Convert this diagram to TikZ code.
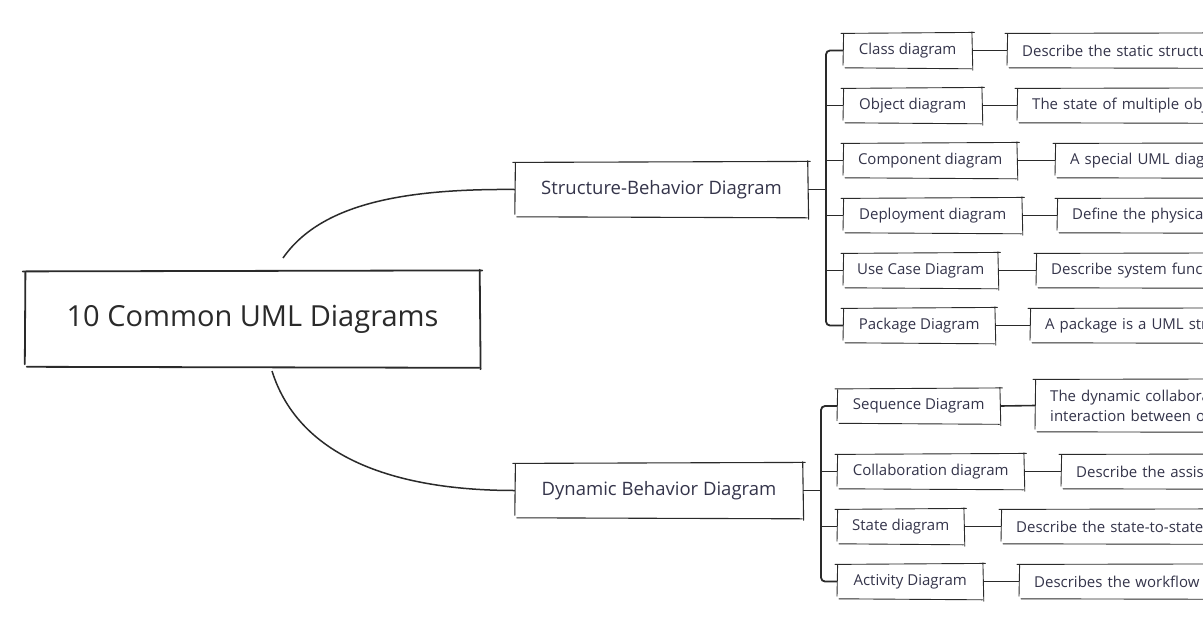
\documentclass[tikz,border=0pt]{standalone}
\usepackage{fontspec}
\setmainfont{Open Sans}
\usetikzlibrary{calc}
\definecolor{ink}{HTML}{2A2A2A}
\definecolor{txt}{HTML}{34344A}
\newcommand\skbox[2][0.9pt]{%
  \draw[ink, line width=#1, line cap=round] ($(#2.north west)+(-2,0.6)$) -- ($(#2.north east)+(2,-0.4)$);
  \draw[ink, line width=#1, line cap=round] ($(#2.north west)+(0.6,1.5)$) -- ($(#2.south west)+(0,-3)$);
  \draw[ink, line width=#1, line cap=round] ($(#2.south west)+(2,-0.4)$) -- ($(#2.south east)+(-1,0.6)$);
  \draw[ink, line width=#1, line cap=round] ($(#2.north east)+(-0.5,-1)$) -- ($(#2.south east)+(0.4,2)$);
}
\begin{document}
\begin{tikzpicture}[x=1pt,y=-1pt,
  rootbox/.style={minimum width=455, minimum height=96, inner sep=0,
    font=\fontsize{29}{34}\selectfont, text=ink},
  midbox/.style={minimum height=55, inner sep=0,
    font=\fontsize{18.5}{22}\selectfont, text=txt},
  childbox/.style={minimum height=35, inner sep=0, anchor=west,
    font=\fontsize{15}{18}\selectfont, text=txt},
  descbox/.style={minimum height=35, inner xsep=15, inner ysep=0,
    anchor=west, text width=400, align=left, font=\fontsize{15}{20}\selectfont, text=txt},
  link/.style={draw=ink, line width=1.6pt},
  trunk/.style={draw=ink, line width=1.8pt, rounded corners=4pt}
]
\useasboundingbox (0,0) rectangle (1203,630);
\fill[white] (0,0) rectangle (1203,630);
\clip (0,0) rectangle (1203,630);

% root
\node[rootbox] (root) at (252.5,319) {10 Common UML Diagrams};
\skbox[1.8pt]{root}

% level 1
\node[midbox, minimum width=293] (sb) at (661.5,189.5) {Structure-Behavior Diagram};
\node[midbox, minimum width=288] (db) at (659,490.5) {Dynamic Behavior Diagram};
\skbox[1.1pt]{sb}
\skbox[1.1pt]{db}

\coordinate (rt) at (283,258);
\coordinate (rb) at (272,371);
\draw[link, line width=1.5pt] (rt) .. controls (320,205) and (400,188.5) .. (sb.west);
\draw[link, line width=1.5pt] (rb) .. controls (300,460) and (400,490.5) .. (db.west);

% structure children
\node[childbox, minimum width=129] (c1) at (843,50.5) {Class diagram};
\node[childbox, minimum width=139] (c2) at (843,105.5) {Object diagram};
\node[childbox, minimum width=174] (c3) at (843,160.5) {Component diagram};
\node[childbox, minimum width=179] (c4) at (843,215.5) {Deployment diagram};
\node[childbox, minimum width=155] (c5) at (843,270.5) {Use Case Diagram};
\node[childbox, minimum width=152] (c6) at (843,325.5) {Package Diagram};

\node[descbox] (e1) at (1007,50.5) {Describe the static structu};
\node[descbox] (e2) at (1017,105.5) {The state of multiple obj};
\node[descbox] (e3) at (1055,160.5) {A special UML diag};
\node[descbox] (e4) at (1057,215.5) {Define the physical};
\node[descbox] (e5) at (1036,270.5) {Describe system funct};
\node[descbox] (e6) at (1030,325.5) {A package is a UML str};

\foreach \i in {1,...,6} {\skbox{c\i} \skbox{e\i} \draw[link] (c\i.east) -- (e\i.west);}

\coordinate (st) at (826,189.5);
\draw[link] (sb.east) -- (st);
\draw[trunk] (c1.west) -| (st) |- (c6.west);
\foreach \i in {2,...,5} {\draw[link] (c\i.west) -- (826,0 |- c\i.west);}

% dynamic children
\node[childbox, minimum width=163] (k1) at (837,406) {Sequence Diagram};
\node[childbox, minimum width=187] (k2) at (837,471.5) {Collaboration diagram};
\node[childbox, minimum width=127] (k3) at (837,526.5) {State diagram};
\node[childbox, minimum width=146] (k4) at (837,581.5) {Activity Diagram};

\node[descbox, minimum height=53] (f1) at (1035,405.5) {The dynamic collabora\\interaction between o};
\node[descbox] (f2) at (1061,471.5) {Describe the assist};
\node[descbox] (f3) at (1001,526.5) {Describe the state-to-state};
\node[descbox] (f4) at (1019,581.5) {Describes the workflow};

\foreach \i in {1,...,4} {\skbox{k\i} \skbox{f\i} \draw[link] (k\i.east) -- (f\i.west);}

\coordinate (dt) at (821,490.5);
\draw[link] (db.east) -- (dt);
\draw[trunk] (k1.west) -| (dt) |- (k4.west);
\foreach \i in {2,3} {\draw[link] (k\i.west) -- (821,0 |- k\i.west);}
\end{tikzpicture}
\end{document}
